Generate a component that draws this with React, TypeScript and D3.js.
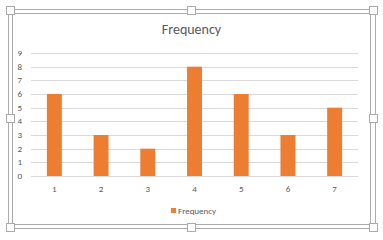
import React from "react";
import * as d3 from "d3";

const categories = ["1", "2", "3", "4", "5", "6", "7"];
const frequency = [6, 3, 2, 8, 6, 3, 5];
const yTicks = [0, 1, 2, 3, 4, 5, 6, 7, 8, 9];
const seriesName = "Frequency";
const titleText = "Frequency";

export default function App() {
  const W = 383, H = 240;
  const left = 31, right = 358, top = 53, bottom = 176;
  const x = d3.scaleBand<string>().domain(categories).range([left, right]).paddingInner(0.68).paddingOuter(0.34);
  const y = d3.scaleLinear().domain([0, 9]).range([bottom, top]);
  const font = "Carlito, 'Open Sans', 'Liberation Sans', sans-serif";
  const textColor = "#595959";
  const frameColor = "#ABABAB";
  const handles = [
    [10, 10], [191, 10], [373, 10],
    [10, 118], [373, 118],
    [10, 227], [191, 227], [373, 227],
  ];
  return (
    <div style={{ position: "absolute", left: 0, top: 0 }}>
      <svg width={W} height={H} style={{ display: "block", background: "#fff" }}>
        {/* selection frame */}
        <rect x={8.5} y={9.5} width={367} height={219} fill="none" stroke={frameColor} strokeWidth={1} />
        <rect x={12.5} y={13.5} width={358} height={211} fill="none" stroke={frameColor} strokeWidth={1} />
        {handles.map(([hx, hy], i) => (
          <rect key={i} x={hx - 4 + 0.5} y={hy - 4 + 0.5} width={8} height={8} fill="#fff" stroke={frameColor} strokeWidth={1} />
        ))}
        <text x={191.5} y={34} textAnchor="middle" fontFamily={font} fontSize={14} fill={textColor}>
          {titleText}
        </text>
        {yTicks.map((t) => (
          <g key={t}>
            <line x1={left} x2={right} y1={Math.round(y(t)) + 0.5} y2={Math.round(y(t)) + 0.5} stroke="#D9D9D9" strokeWidth={1} />
            <text x={22} y={y(t) + 3} textAnchor="end" fontFamily={font} fontSize={9} fill={textColor}>
              {t}
            </text>
          </g>
        ))}
        {categories.map((c, i) => (
          <rect key={c} x={x(c)!} y={y(frequency[i])} width={x.bandwidth()} height={y(0) - y(frequency[i])} fill="#ED7D31" />
        ))}
        {categories.map((c) => (
          <text key={c} x={x(c)! + x.bandwidth() / 2} y={192} textAnchor="middle" fontFamily={font} fontSize={9} fill={textColor}>
            {c}
          </text>
        ))}
        <rect x={171} y={208} width={5} height={5} fill="#ED7D31" />
        <text x={178} y={214} fontFamily={font} fontSize={9} fill={textColor}>
          {seriesName}
        </text>
      </svg>
    </div>
  );
}
